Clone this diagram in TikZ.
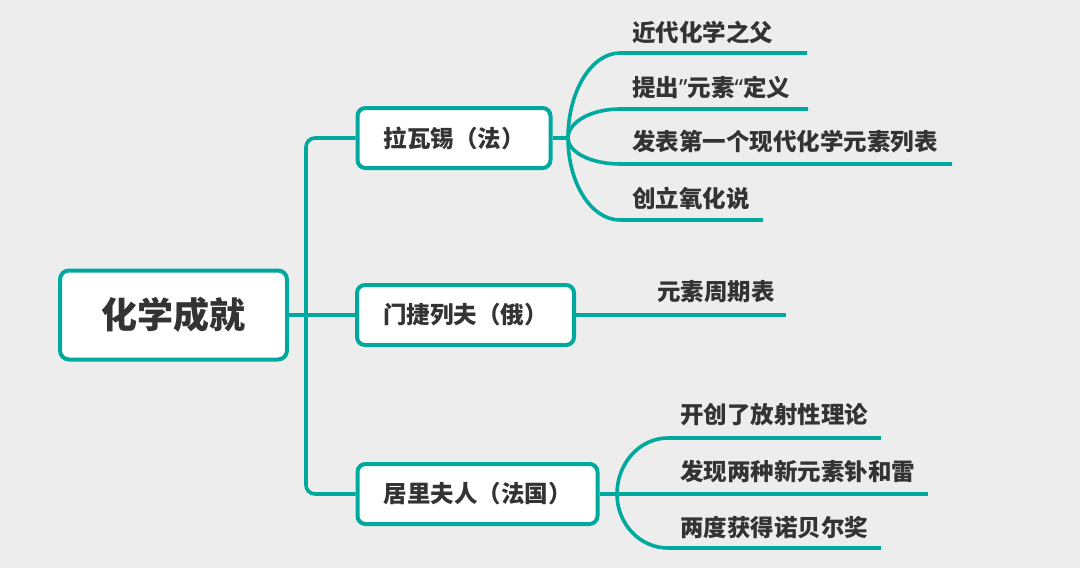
\documentclass[tikz,border=0pt]{standalone}
\usepackage{fontspec}
\newfontfamily\cjk{Noto Sans CJK SC}
\newfontfamily\latq{Noto Sans}
\definecolor{bgc}{HTML}{EDEDED}
\definecolor{teal1}{HTML}{00A99D}
\definecolor{txt}{HTML}{333333}
\tikzset{
  conn/.style={draw=teal1, line width=3.6pt},
  rootbox/.style={draw=teal1, fill=white, line width=4pt, rounded corners=9pt,
    minimum width=227pt, minimum height=89pt, inner sep=0pt,
    font=\cjk\bfseries\fontsize{36}{40}\selectfont, text=txt},
  subbox/.style={draw=teal1, fill=white, line width=4pt, rounded corners=8pt,
    minimum height=60pt, inner xsep=26pt, inner ysep=0pt, align=left,
    font=\cjk\bfseries\fontsize{23.5}{26}\selectfont, text=txt},
  leaf/.style={anchor=west, inner sep=0pt,
    font=\cjk\bfseries\fontsize{23.5}{26}\selectfont, text=txt},
}
\begin{document}
\begin{tikzpicture}[x=1pt,y=-1pt]
\fill[bgc] (0,0) rectangle (1080,568);
\useasboundingbox (0,0) rectangle (1080,568);

% root and branches
\node[rootbox] (root) at (173.5,315) {化学成就};
\node[subbox, text width=141pt] (b1) at (454,138) {拉瓦锡（法）};
\node[subbox, text width=165pt] (b2) at (465.5,315) {门捷列夫（俄）};
\node[subbox, text width=188pt] (b3) at (477.5,494) {居里夫人（法国）};

\draw[conn] (root.east) -- (b2.west);
\draw[conn, rounded corners=9pt] (b1.west) -- (306,138) -- (306,494) -- (b3.west);

% branch 1 leaves
\coordinate (o1) at (568,138);
\draw[conn] (b1.east) -- (o1);
\node[leaf] (t11) at (632,32) {近代化学之父};
\node[leaf] (t12) at (632,87) {提出{\latq\bfseries ”}元素{\latq\bfseries “}定义};
\node[leaf] (t13) at (632,142) {发表第一个现代化学元素列表};
\node[leaf] (t14) at (632,198) {创立氧化说};
\coordinate (e11) at (807,53);
\coordinate (e12) at (808,109);
\coordinate (e13) at (952,164);
\coordinate (e14) at (763,220);
\draw[conn] (o1) .. controls (568,91.6) and (591.3,53) .. (620,53) -- (e11);
\draw[conn] (o1) .. controls (568,122) and (591.3,109) .. (620,109) -- (e12);
\draw[conn] (o1) .. controls (568,152.4) and (591.3,164) .. (620,164) -- (e13);
\draw[conn] (o1) .. controls (568,183.3) and (591.3,220) .. (620,220) -- (e14);

% branch 2 leaf
\node[leaf] (t21) at (657,292) {元素周期表};
\coordinate (e21) at (786,315);
\draw[conn] (b2.east) -- (e21);

% branch 3 leaves
\coordinate (o3) at (617,494);
\draw[conn] (b3.east) -- (o3);
\node[leaf] (t31) at (680,415) {开创了放射性理论};
\node[leaf] (t32) at (680,471) {发现两种新元素钋和雷};
\node[leaf] (t33) at (680,527) {两度获得诺贝尔奖};
\coordinate (e31) at (881,438);
\coordinate (e32) at (928,494);
\coordinate (e33) at (881,548);
\draw[conn] (o3) .. controls (617,463.1) and (639.8,438) .. (668,438) -- (e31);
\draw[conn] (o3) -- (e32);
\draw[conn] (o3) .. controls (617,523.8) and (639.8,548) .. (668,548) -- (e33);
\end{tikzpicture}
\end{document}
